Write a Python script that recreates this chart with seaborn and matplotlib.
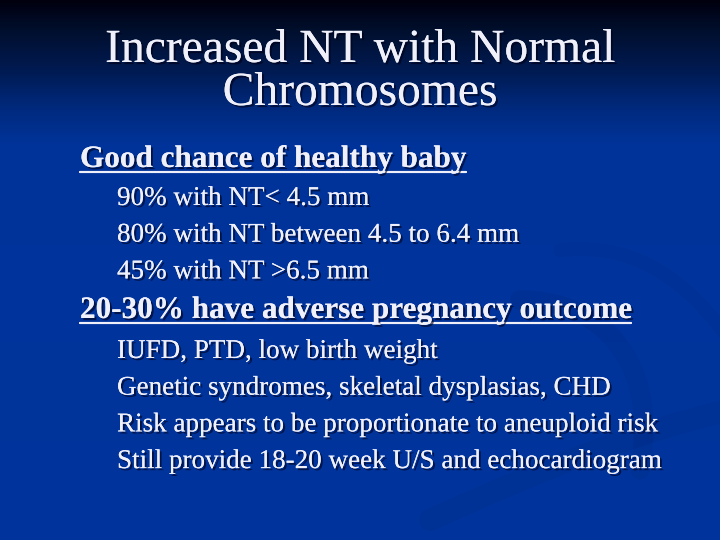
import numpy as np
import pandas as pd
import seaborn as sns
import matplotlib
matplotlib.use("Agg")
import matplotlib.pyplot as plt
from matplotlib.colors import LinearSegmentedColormap
from matplotlib import patheffects
from matplotlib.lines import Line2D
from matplotlib.path import Path
from matplotlib.patches import PathPatch

# ---- content ----
title_lines = ["Increased NT with Normal", "Chromosomes"]
heading_1 = "Good chance of healthy baby"
sub_1 = ["90% with NT< 4.5 mm",
         "80% with NT between 4.5 to 6.4 mm",
         "45% with NT >6.5 mm"]
heading_2 = "20-30% have adverse pregnancy outcome"
sub_2 = ["IUFD, PTD, low birth weight",
         "Genetic syndromes, skeletal dysplasias, CHD",
         "Risk appears to be proportionate to aneuploid risk",
         "Still provide 18-20 week U/S and echocardiogram"]

W, H = 720, 540
sns.set_theme(style="white")
plt.rcParams['font.family'] = ['Liberation Serif', 'DejaVu Serif']

fig = plt.figure(figsize=(7.2, 5.4), dpi=100)
ax = fig.add_axes([0, 0, 1, 1])

# background vertical gradient drawn with seaborn heatmap
stops = [(0.0, "#00000f"), (30 / H, "#000f2e"), (70 / H, "#001a52"),
         (110 / H, "#002a80"), (145 / H, "#00339a"), (1.0, "#00349c")]
cmap = LinearSegmentedColormap.from_list("bg", stops)
grad = pd.DataFrame(np.linspace(0, 1, H)[:, None])
sns.heatmap(grad, ax=ax, cmap=cmap, cbar=False, vmin=0, vmax=1,
            xticklabels=False, yticklabels=False)
ax.set_axis_off()


def fy(y):
    return 1 - y / H


# faint decorative swooshes on the right
def swoosh(pts, lw, alpha):
    verts = [(x / W, fy(y)) for x, y in pts]
    codes = [Path.MOVETO] + [Path.CURVE4] * (len(verts) - 1)
    p = PathPatch(Path(verts, codes), fill=False, edgecolor="#001a60",
                  lw=lw, alpha=alpha, transform=fig.transFigure,
                  capstyle="round")
    fig.add_artist(p)


swoosh([(520, 300), (600, 300), (660, 360), (640, 470)], 14, 0.10)
swoosh([(430, 520), (540, 470), (640, 430), (730, 410)], 16, 0.10)
swoosh([(560, 250), (650, 240), (700, 300), (730, 340)], 10, 0.06)

renderer = fig.canvas.get_renderer()
shadow = [patheffects.withSimplePatchShadow(offset=(1.5, -1.5),
                                            shadow_rgbFace="#000018", alpha=0.6),
          patheffects.Normal()]
txtcol = "#f0f0fa"


def fit_size(text, target_w, weight="normal"):
    t = fig.text(0, 0, text, fontsize=20, fontweight=weight)
    w = t.get_window_extent(renderer).width
    t.remove()
    return 20 * target_w / w


def put(x, y, s, size, weight="normal", ha="left", underline=False):
    t = fig.text(x / W, fy(y), s, fontsize=size, fontweight=weight, ha=ha,
                 va="baseline", color=txtcol, path_effects=shadow)
    if underline:
        bb = t.get_window_extent(renderer)
        uy = fy(y + 5)
        fig.add_artist(Line2D([bb.x0 / W, bb.x1 / W], [uy, uy], color=txtcol,
                              lw=1.5, transform=fig.transFigure,
                              path_effects=shadow))
    return t


title_size = fit_size(title_lines[0], 510)
head_size = fit_size(heading_2, 552, "bold")
sub_size = fit_size(sub_2[3], 545)

put(360, 62, title_lines[0], title_size, ha="center")
put(360, 105, title_lines[1], title_size, ha="center")

put(80, 167, heading_1, head_size, "bold", underline=True)
for i, s in enumerate(sub_1):
    put(117, 205 + i * 36.7, s, sub_size)
put(80, 318, heading_2, head_size, "bold", underline=True)
for i, s in enumerate(sub_2):
    put(117, 358 + i * 36.7, s, sub_size)

fig.savefig("out.png", dpi=100)
